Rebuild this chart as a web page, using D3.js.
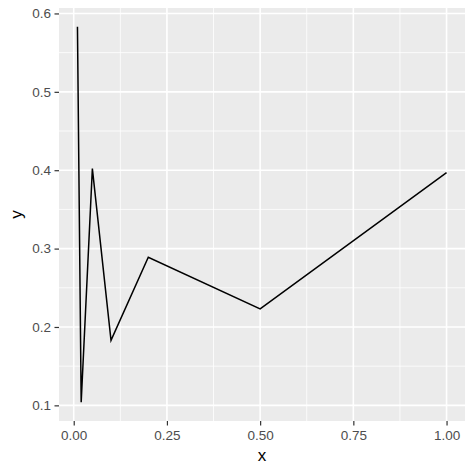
<!DOCTYPE html>
<html>
<head>
<meta charset="utf-8">
<script src="https://cdn.jsdelivr.net/npm/d3@7"></script>
<style>
	body { margin: 0; background: #fff; }
	text { font-family: "Liberation Sans", Arial, sans-serif; }
</style>
</head>
<body>
<div id="chart"></div>
<script>
var xValues = [0.01, 0.02, 0.05, 0.1, 0.2, 0.5, 1];
var yValues = [0.583, 0.104, 0.402, 0.183, 0.289, 0.223, 0.397];
var xTicks = [0, 0.25, 0.5, 0.75, 1];
var xTickLabels = ["0.00", "0.25", "0.50", "0.75", "1.00"];
var yTicks = [0.1, 0.2, 0.3, 0.4, 0.5, 0.6];
var yTickLabels = ["0.1", "0.2", "0.3", "0.4", "0.5", "0.6"];
var xMinor = [0.125, 0.375, 0.625, 0.875];
var yMinor = [0.15, 0.25, 0.35, 0.45, 0.55];

var W = 474, H = 474;
var panel = {left: 59, top: 8, right: 465, bottom: 421};

var svg = d3.select("#chart")
	.append("svg")
	.attr("width", W)
	.attr("height", H);

// ggplot style 5% expansion
function expand(ext) {
	var pad = (ext[1] - ext[0]) * 0.05;
	return [ext[0] - pad, ext[1] + pad];
}

var x = d3.scaleLinear()
	.domain(expand(d3.extent(xValues)))
	.range([panel.left, panel.right]);
var y = d3.scaleLinear()
	.domain(expand(d3.extent(yValues)))
	.range([panel.bottom, panel.top]);

svg.append("rect")
	.attr("x", panel.left)
	.attr("y", panel.top)
	.attr("width", panel.right - panel.left)
	.attr("height", panel.bottom - panel.top)
	.attr("fill", "#EBEBEB");

var grid = svg.append("g");

grid.selectAll(".xminor").data(xMinor).enter().append("line")
	.attr("x1", function(d){return x(d)}).attr("x2", function(d){return x(d)})
	.attr("y1", panel.top).attr("y2", panel.bottom)
	.attr("stroke", "#fff").attr("stroke-width", 0.8);
grid.selectAll(".yminor").data(yMinor).enter().append("line")
	.attr("y1", function(d){return y(d)}).attr("y2", function(d){return y(d)})
	.attr("x1", panel.left).attr("x2", panel.right)
	.attr("stroke", "#fff").attr("stroke-width", 0.8);
grid.selectAll(".xmajor").data(xTicks).enter().append("line")
	.attr("x1", function(d){return x(d)}).attr("x2", function(d){return x(d)})
	.attr("y1", panel.top).attr("y2", panel.bottom)
	.attr("stroke", "#fff").attr("stroke-width", 1.6);
grid.selectAll(".ymajor").data(yTicks).enter().append("line")
	.attr("y1", function(d){return y(d)}).attr("y2", function(d){return y(d)})
	.attr("x1", panel.left).attr("x2", panel.right)
	.attr("stroke", "#fff").attr("stroke-width", 1.6);

// the line
var line = d3.line()
	.x(function(d){return x(d[0])})
	.y(function(d){return y(d[1])});

svg.append("path")
	.datum(d3.zip(xValues, yValues))
	.attr("d", line)
	.attr("fill", "none")
	.attr("stroke", "#000")
	.attr("stroke-width", 1.5)
	.attr("stroke-linejoin", "miter");

// axes
var xAxis = d3.axisBottom(x)
	.tickValues(xTicks)
	.tickFormat(function(d, i){return xTickLabels[i]})
	.tickSize(4.5)
	.tickPadding(4.5);
var yAxis = d3.axisLeft(y)
	.tickValues(yTicks)
	.tickFormat(function(d, i){return yTickLabels[i]})
	.tickSize(4.5)
	.tickPadding(3.5);

var gx = svg.append("g")
	.attr("transform", "translate(0," + panel.bottom + ")")
	.call(xAxis);
var gy = svg.append("g")
	.attr("transform", "translate(" + panel.left + ",0)")
	.call(yAxis);

[gx, gy].forEach(function(g){
	g.select(".domain").remove();
	g.selectAll(".tick line").attr("stroke", "#333").attr("stroke-width", 1.2);
	g.selectAll(".tick text")
		.attr("fill", "#4D4D4D")
		.style("font-size", "13.5px")
		.style("font-family", "'Liberation Sans', Arial, sans-serif");
});

svg.append("text")
	.text("x")
	.attr("x", (panel.left + panel.right) / 2)
	.attr("y", 461)
	.attr("text-anchor", "middle")
	.attr("fill", "#000")
	.style("font-size", "17px");

svg.append("text")
	.text("y")
	.attr("transform", "translate(22," + ((panel.top + panel.bottom) / 2) + "),rotate(-90)")
	.attr("text-anchor", "middle")
	.attr("fill", "#000")
	.style("font-size", "17px");
</script>
</body>
</html>
